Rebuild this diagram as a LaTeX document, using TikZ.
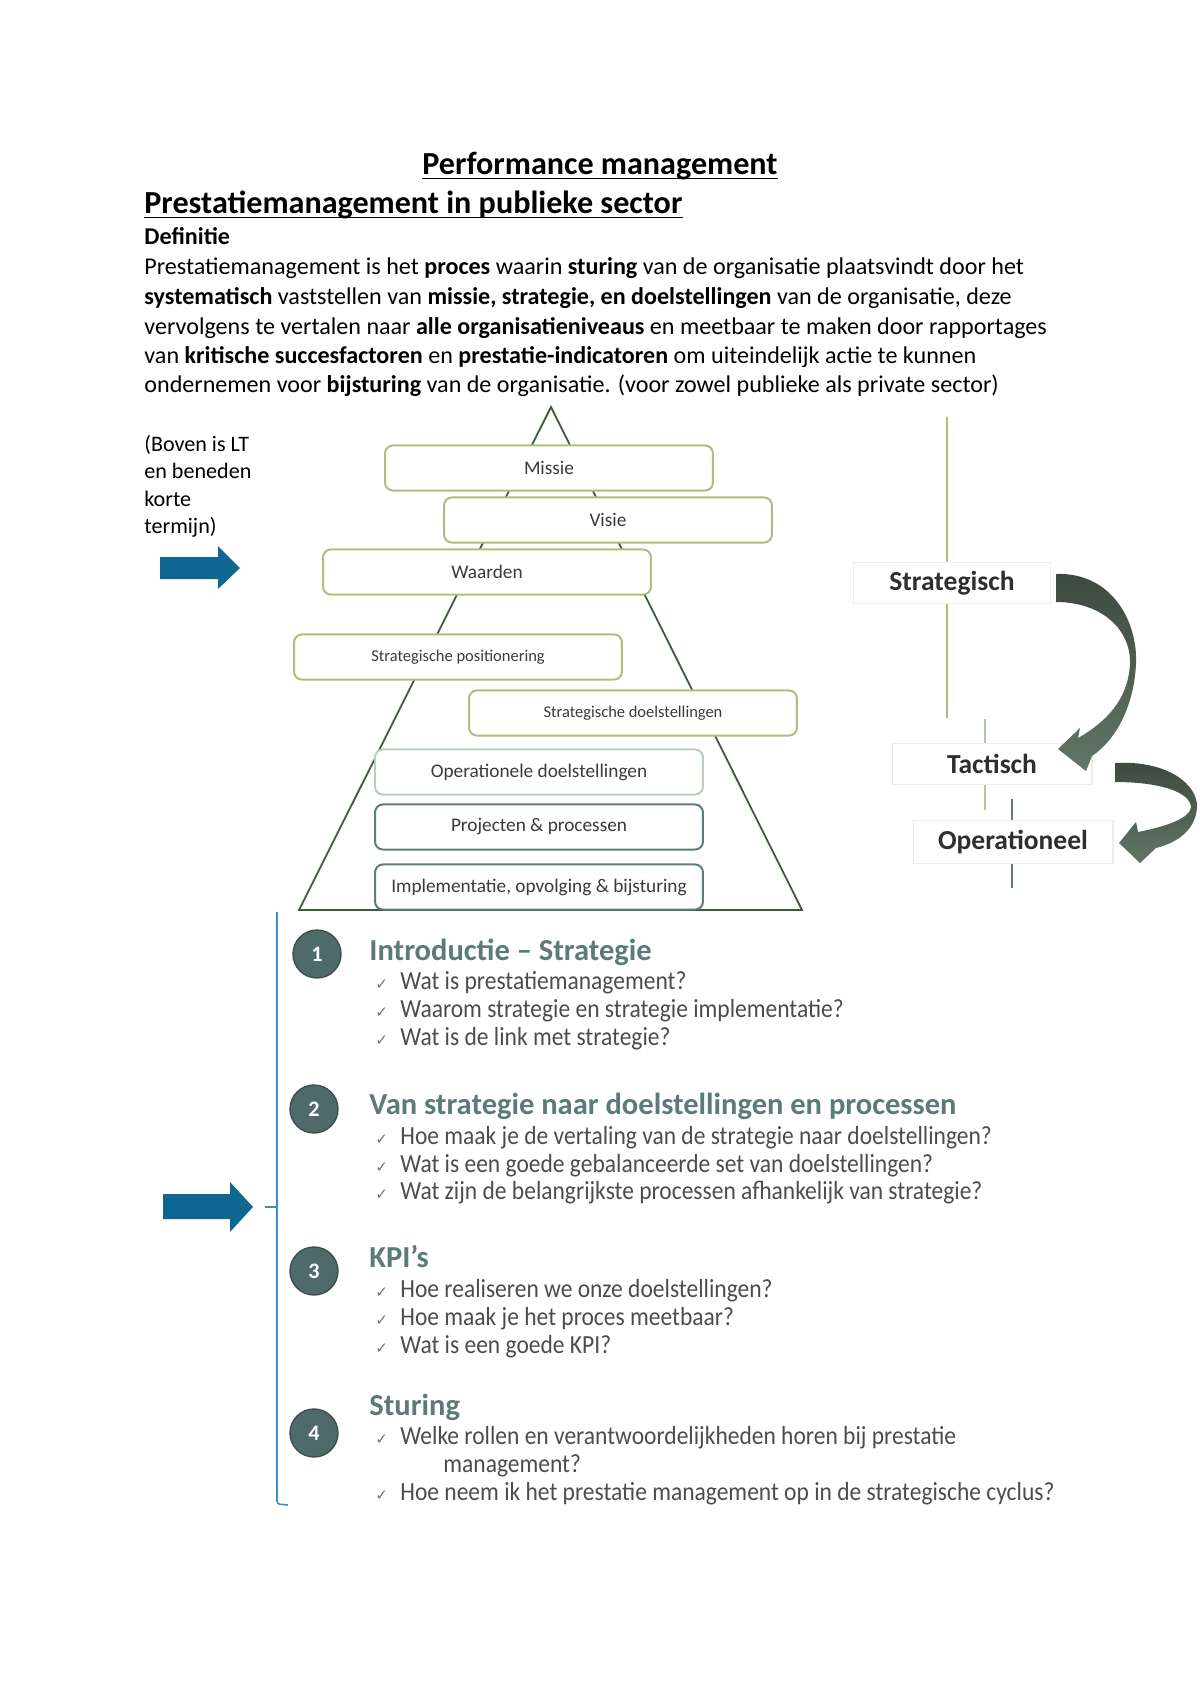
\documentclass[tikz,border=0pt]{standalone}
\usepackage{fontspec}
\setmainfont{Carlito}
\newfontfamily\slidefont[FakeStretch=0.9]{Carlito}
\newfontfamily\symfont{DejaVu Sans}
\usetikzlibrary{calc,positioning}
\definecolor{cgrey}{HTML}{3A3A3A}
\definecolor{colive}{HTML}{B3BD79}
\definecolor{cpale}{HTML}{BCCDBC}
\definecolor{cslate}{HTML}{5D7D7C}
\definecolor{cpyr}{HTML}{3E5C3C}
\definecolor{cblue}{HTML}{0F6791}
\definecolor{cline}{HTML}{3B8DC5}
\definecolor{cteal}{HTML}{5A7B78}
\definecolor{cdisc}{HTML}{4F6B69}
\definecolor{cbend}{HTML}{3C4A3E}
\definecolor{cbend2}{HTML}{627565}
\definecolor{cstem}{HTML}{B4C7A8}

\begin{document}
\begin{tikzpicture}[x=0.0175cm, y=-0.0175cm, font=\fontsize{12}{14.6}\selectfont,
  regel/.style={anchor=mid west, inner sep=0pt},
  laag/.style={draw=colive, line width=1pt, rounded corners=4pt, fill=white, minimum width=5.74cm,
    minimum height=0.79cm, inner sep=0pt, text=cgrey, font=\fontsize{9.6}{11}\selectfont},
  niveau/.style={draw=black!7, line width=0.5pt, fill=white, minimum width=3.45cm, minimum height=0.73cm,
    inner sep=0pt, text=black!82, font=\fontsize{13.7}{16}\selectfont\bfseries},
  nummer/.style={circle, fill=cdisc, draw=cdisc!75!black, line width=0.7pt, minimum size=0.84cm,
    inner sep=0pt, text=white, font=\fontsize{11}{13}\selectfont\bfseries},
  kop/.style={anchor=mid west, inner sep=0pt, text=cteal, font=\fontsize{15.2}{17}\selectfont\bfseries},
  vraag/.style={anchor=mid west, inner sep=0pt, text=black!70, font=\fontsize{13}{15}\slidefont},
  vink/.style={anchor=mid west, inner sep=0pt, text=black!55, font=\fontsize{7.5}{8}\symfont}]
\useasboundingbox (0,0) rectangle (1200,1698);
%% ------------------------------------------------------------------ heading and definition
\node[anchor=mid, inner sep=0pt, font=\fontsize{16}{19}\selectfont\bfseries] (titel) at (600,170) {Performance management};
\draw[line width=0.9pt] ([yshift=-1.8pt]titel.base west) -- ([yshift=-1.8pt]titel.base east);
\node[regel, font=\fontsize{16}{19}\selectfont\bfseries] (sub) at (144,209) {Prestatiemanagement in publieke sector};
\draw[line width=0.9pt] ([yshift=-1.8pt]sub.base west) -- ([yshift=-1.8pt]sub.base east);
\node[regel, font=\fontsize{12}{14.6}\selectfont\bfseries] (def) at (144,240) {Definitie};
\node[regel] (r1) at (144,270) {Prestatiemanagement is het \textbf{proces} waarin \textbf{sturing} van de organisatie plaatsvindt door het};
\node[regel] (r2) at (144,300) {\textbf{systematisch} vaststellen van \textbf{missie, strategie, en doelstellingen} van de organisatie, deze};
\node[regel] (r3) at (144,330) {vervolgens te vertalen naar \textbf{alle organisatieniveaus} en meetbaar te maken door rapportages};
\node[regel] (r4) at (144,359) {van \textbf{kritische succesfactoren} en \textbf{prestatie-indicatoren} om uiteindelijk actie te kunnen};
\node[regel] (r5) at (144,388) {ondernemen voor \textbf{bijsturing} van de organisatie. (voor zowel publieke als private sector)};
% side note and the two pointers
\node[anchor=north west, inner sep=0pt, align=left, font=\fontsize{11}{13.6}\selectfont] (noot) at (144,435) {(Boven is LT\\en beneden\\korte\\termijn)};
\fill[cblue] (160,557) -- (218,557) -- (218,546) -- (240,568) -- (218,589) -- (218,579) -- (160,579) -- cycle;
\fill[cblue] (163,1194) -- (230,1194) -- (230,1182) -- (253,1207) -- (230,1232) -- (230,1219) -- (163,1219) -- cycle;
%% ------------------------------------------------------------------ pyramid
\draw[cpyr, line width=0.9pt] (299,910) -- (551,407) -- (802,910) -- cycle;
\node[laag] (missie) at (549,468) {Missie};
\node[laag] (visie) at (608,520) {Visie};
\node[laag] (waarden) at (487,572) {Waarden};
\node[laag, font=\fontsize{8.2}{9}\selectfont] (strpos) at (458,657) {Strategische positionering};
\node[laag, font=\fontsize{8.2}{9}\selectfont] (strdoel) at (633,713) {Strategische doelstellingen};
\node[laag, draw=cpale] (opdoel) at (539,772) {Operationele doelstellingen};
\node[laag, draw=cslate] (proj) at (539,827) {Projecten \& processen};
\node[laag, draw=cslate] (impl) at (539,887) {Implementatie, opvolging \& bijsturing};
%% ------------------------------------------------------------------ levels
\coordinate (s1) at (947,417); \coordinate (s2) at (947,718);
\coordinate (t1) at (985,719); \coordinate (t2) at (985,810);
\coordinate (o1) at (1012,799); \coordinate (o2) at (1012,888);
\draw[colive, line width=0.9pt] (s1) -- (s2);
\draw[cstem, line width=1.4pt] (t1) -- (t2);
\draw[cslate, line width=1.2pt] (o1) -- (o2);
\node[niveau] (strat) at (952,583) {Strategisch};
\node[niveau, minimum width=3.5cm] (tact) at (992,764) {Tactisch};
\node[niveau, minimum width=3.5cm, minimum height=0.75cm] (oper) at (1013,842) {Operationeel};
% bent block arrows
\shade[top color=cbend, bottom color=cbend2] (1056,574) .. controls (1112,572) and (1138,622) .. (1136,664)
  .. controls (1134,706) and (1116,740) .. (1092,756) -- (1086,771) -- (1058,749) -- (1080,728) -- (1078,738)
  .. controls (1106,722) and (1128,700) .. (1130,664) .. controls (1131,628) and (1100,602) .. (1056,602) -- cycle;
\shade[top color=cbend, bottom color=cbend2] (1115,763) .. controls (1168,760) and (1198,785) .. (1197,807)
  .. controls (1196,828) and (1180,842) .. (1156,848) -- (1140,863) -- (1119,843) -- (1136,822) -- (1138,832)
  .. controls (1168,826) and (1190,818) .. (1191,807) .. controls (1190,792) and (1160,782) .. (1115,782) -- cycle;
%% ------------------------------------------------------------------ course outline
\draw[cline, line width=0.8pt] (265,1207) -- (277,1207);
\draw[cline, line width=0.8pt, rounded corners=1.5pt] (277,912) -- (277,1504) -- (288,1505);
\foreach \n/\x/\y in {1/317/954, 2/314/1109, 3/314/1271, 4/314/1433}
  \node[nummer] (c\n) at (\x,\y) {\n};
\node[kop] (k1) at (369,956) {Introductie -- Strategie};
\node[kop] (k2) at (369,1110) {Van strategie naar doelstellingen en processen};
\node[kop] (k3) at (369,1263) {KPI’s};
\node[kop] (k4) at (369,1411) {Sturing};
\foreach \y/\t in {985/{Wat is prestatiemanagement?}, 1013/{Waarom strategie en strategie implementatie?},
    1041/{Wat is de link met strategie?}, 1140/{Hoe maak je de vertaling van de strategie naar doelstellingen?},
    1168/{Wat is een goede gebalanceerde set van doelstellingen?},
    1195/{Wat zijn de belangrijkste processen afhankelijk van strategie?},
    1293/{Hoe realiseren we onze doelstellingen?}, 1321/{Hoe maak je het proces meetbaar?},
    1349/{Wat is een goede KPI?}, 1440/{Welke rollen en verantwoordelijkheden horen bij prestatie},
    1496/{Hoe neem ik het prestatie management op in de strategische cyclus?}} {
  \node[vink] (v\y) at (375,\y) {✓};
  \node[vraag] (q\y) at (400,\y) {\t};
}
\node[vraag] (q1468) at (443,1468) {management?};
\end{tikzpicture}
\end{document}
